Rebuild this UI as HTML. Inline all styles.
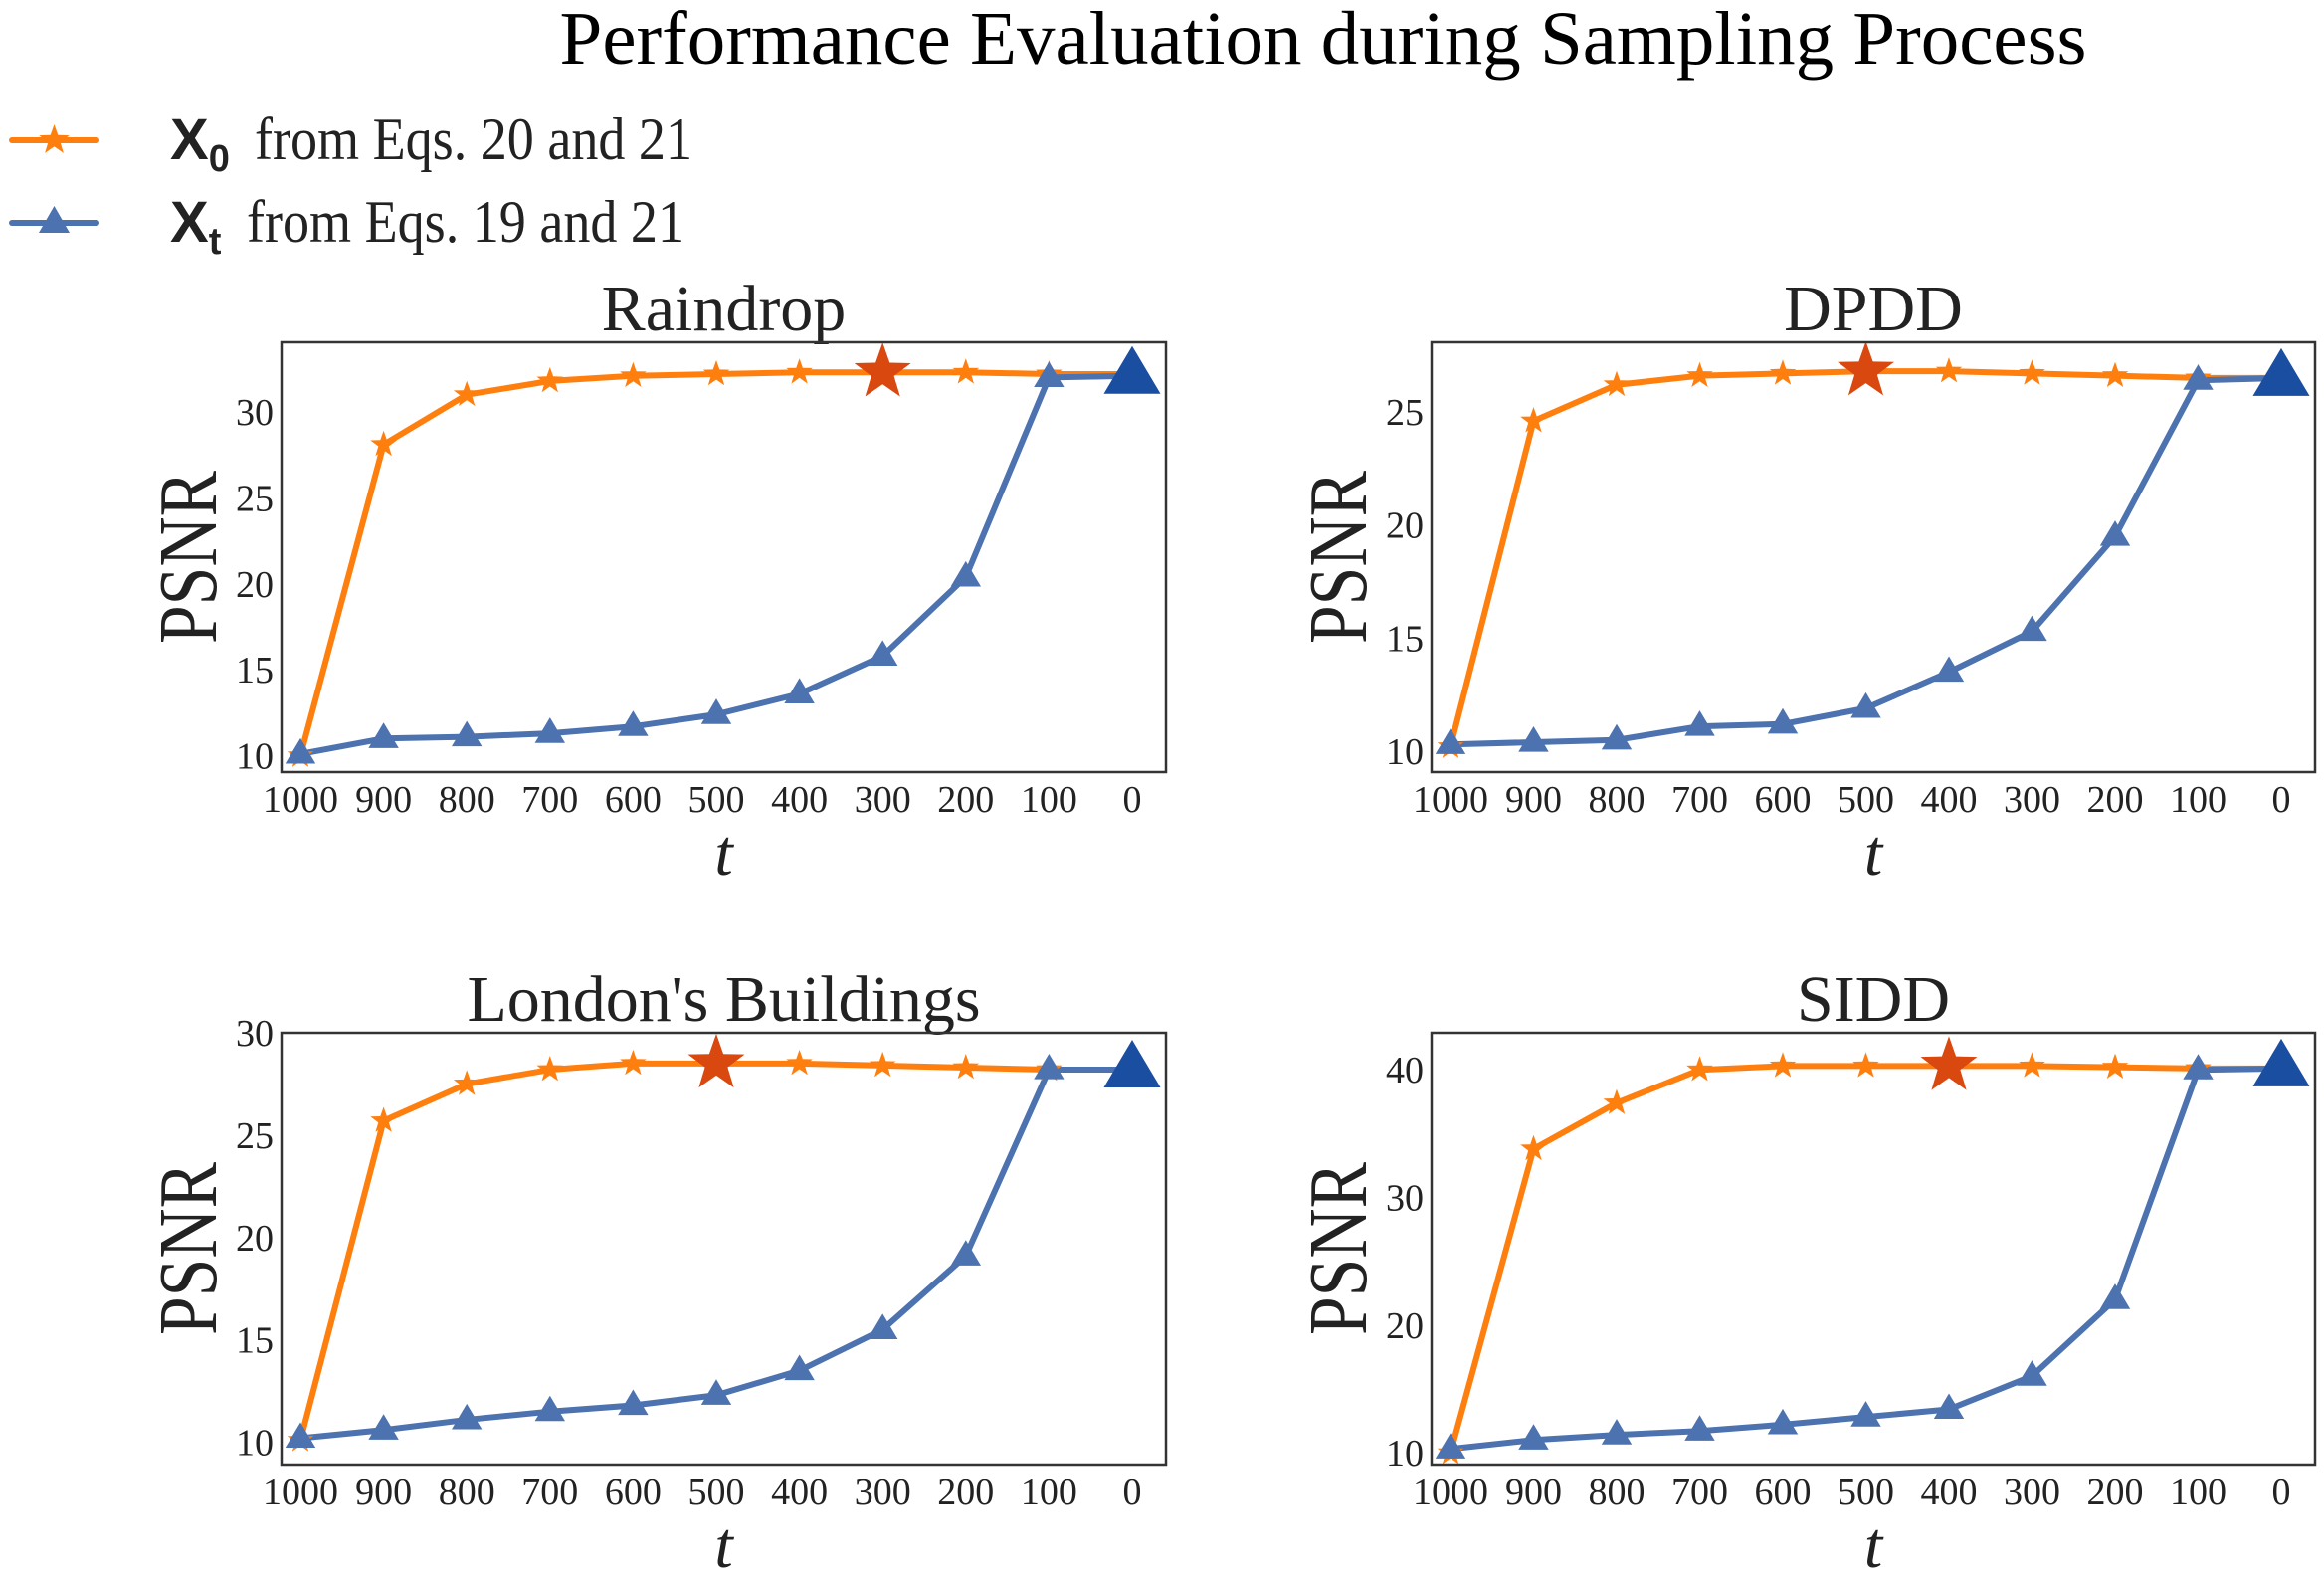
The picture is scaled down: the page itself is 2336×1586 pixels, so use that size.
<!DOCTYPE html>
<html><head><meta charset="utf-8"><style>
html,body{margin:0;padding:0;background:#fff;}
svg{display:block;}
</style></head><body>
<svg id="fig" width="2336" height="1586" viewBox="0 0 2336 1586" xmlns="http://www.w3.org/2000/svg">
<text x="1330" y="64" font-family="Liberation Serif, serif" font-size="76" text-anchor="middle" textLength="1535" lengthAdjust="spacingAndGlyphs" fill="#000">Performance Evaluation during Sampling Process</text>
<g>
 <g>
  <line x1="12" y1="141" x2="97" y2="141" stroke="#ff7f0e" stroke-width="6" stroke-linecap="round"/>
  <polygon points="54.5,125 58.3,135.8 69.7,136.1 60.6,143 63.9,153.9 54.5,147.4 45.1,153.9 48.4,143 39.3,136.1 50.7,135.8" fill="#ff7f0e"/>
  <text x="171" y="160" font-family="Liberation Sans, sans-serif" font-weight="bold" font-size="58" fill="#222">X<tspan font-size="38" dy="12">0</tspan></text>
  <text x="256" y="160" font-family="Liberation Serif, serif" font-size="60" textLength="440" lengthAdjust="spacingAndGlyphs" fill="#222">from Eqs. 20 and 21</text>
 </g>
 <g>
  <line x1="12" y1="224" x2="97" y2="224" stroke="#4c72b0" stroke-width="6" stroke-linecap="round"/>
  <polygon points="54.5,207 39,234 70,234" fill="#4c72b0"/>
  <text x="171" y="243" font-family="Liberation Sans, sans-serif" font-weight="bold" font-size="58" fill="#222">X<tspan font-size="38" dy="12">t</tspan></text>
  <text x="248" y="243" font-family="Liberation Serif, serif" font-size="60" textLength="440" lengthAdjust="spacingAndGlyphs" fill="#222">from Eqs. 19 and 21</text>
 </g>
</g>
<g id="panels"></g>
</svg>
<script>
const steps = [1000, 900, 800, 700, 600, 500, 400, 300, 200, 100, 0];
const xTickLabels = ["1000","900","800","700","600","500","400","300","200","100","0"];

const raindropX0 = [10, 28.1, 31.0, 31.8, 32.1, 32.2, 32.3, 32.3, 32.3, 32.2, 32.2];
const raindropXt = [10.1, 11.0, 11.1, 11.3, 11.7, 12.4, 13.6, 15.8, 20.4, 32.0, 32.1];
const raindropYTicks = [10, 15, 20, 25, 30];

const dpddX0 = [10.2, 24.6, 26.2, 26.6, 26.7, 26.8, 26.8, 26.7, 26.6, 26.5, 26.5];
const dpddXt = [10.3, 10.4, 10.5, 11.1, 11.2, 11.9, 13.5, 15.3, 19.5, 26.4, 26.5];
const dpddYTicks = [10, 15, 20, 25];

const londonX0 = [10.1, 25.7, 27.5, 28.2, 28.5, 28.5, 28.5, 28.4, 28.3, 28.2, 28.2];
const londonXt = [10.2, 10.6, 11.1, 11.5, 11.8, 12.3, 13.5, 15.5, 19.1, 28.2, 28.2];
const londonYTicks = [10, 15, 20, 25, 30];

const siddX0 = [10.0, 33.8, 37.4, 40.0, 40.3, 40.3, 40.3, 40.3, 40.2, 40.1, 40.1];
const siddXt = [10.3, 11.0, 11.4, 11.7, 12.2, 12.8, 13.4, 16.0, 22.0, 40.0, 40.1];
const siddYTicks = [10, 20, 30, 40];

const panels = [
 {name:'raindrop', title:"Raindrop", x0:raindropX0, xt:raindropXt, yt:raindropYTicks, ymin:9.05, ymax:34.05, best:300, L:283, T:344, R:1172, B:776},
 {name:'dpdd', title:"DPDD", x0:dpddX0, xt:dpddXt, yt:dpddYTicks, ymin:9.08, ymax:28.08, best:500, L:1439, T:344, R:2327, B:776},
 {name:'london', title:"London's Buildings", x0:londonX0, xt:londonXt, yt:londonYTicks, ymin:8.91, ymax:30.0, best:500, L:283, T:1038, R:1172, B:1472},
 {name:'sidd', title:"SIDD", x0:siddX0, xt:siddXt, yt:siddYTicks, ymin:9.07, ymax:42.9, best:400, L:1439, T:1038, R:2327, B:1472}
];
const NS = 'http://www.w3.org/2000/svg';
function mk(tag, attrs, parent){const e=document.createElementNS(NS,tag);for(const k in attrs)e.setAttribute(k,attrs[k]);if(parent)parent.appendChild(e);return e;}
function starPts(cx,cy,r){let p=[];for(let i=0;i<10;i++){const rr=i%2?r*0.4:r;const a=-Math.PI/2+i*Math.PI/5;p.push((cx+rr*Math.cos(a)).toFixed(1)+','+(cy+rr*Math.sin(a)).toFixed(1));}return p.join(' ');}
function triPts(cx,cy,r){return [cx+','+(cy-r), (cx-r*0.95)+','+(cy+r*0.6), (cx+r*0.95)+','+(cy+r*0.6)].join(' ');}
const root=document.getElementById('panels');
panels.forEach(p=>{
 const g=mk('g',{},root);
 
 
 const x0px=p.L+19, x1px=p.R-34;
 const xs=v=>x0px+(1000-v)/1000*(x1px-x0px);
 const ys=v=>p.B-(v-p.ymin)/(p.ymax-p.ymin)*(p.B-p.T);
 const cx=(p.L+p.R)/2;
 const t=mk('text',{x:cx,y:p.T-12,'font-family':'Liberation Serif, serif','font-size':66,'text-anchor':'middle',fill:'#222'},g);
 t.textContent=p.title;
 
 
 p.yt.forEach(v=>{
  const tt=mk('text',{x:p.L-8,y:ys(v)+13,'font-family':'Liberation Serif, serif','font-size':38,'text-anchor':'end',fill:'#222'},g);
  tt.textContent=v;
  
  
 });
 steps.forEach((s,i)=>{
  const tt=mk('text',{x:xs(s),y:p.B+40,'font-family':'Liberation Serif, serif','font-size':38,'text-anchor':'middle',fill:'#222'},g);
  tt.textContent=xTickLabels[i];
  
  
 });
 const yl=mk('text',{transform:`translate(${p.L-66},${(p.T+p.B)/2}) rotate(-90)`,'font-family':'Liberation Serif, serif','font-size':84,'text-anchor':'middle',textLength:174,lengthAdjust:'spacingAndGlyphs',fill:'#222'},g);
 yl.textContent='PSNR';
 
 
 const xl=mk('text',{x:cx,y:p.B+103,'font-family':'Liberation Serif, serif','font-size':66,'font-style':'italic','text-anchor':'middle',fill:'#222'},g);
 xl.textContent='t';
 
 
 const lo=mk('polyline',{points:steps.map((s,i)=>xs(s)+','+ys(p.x0[i])).join(' '),fill:'none',stroke:'#ff7f0e','stroke-width':6,'stroke-linejoin':'round'},g);
 
 
 const lb=mk('polyline',{points:steps.map((s,i)=>xs(s)+','+ys(p.xt[i])).join(' '),fill:'none',stroke:'#4c72b0','stroke-width':6,'stroke-linejoin':'round'},g);
 
 
 steps.forEach((s,i)=>{
  const big = s===p.best;
  const m=mk('polygon',{points:starPts(xs(s),ys(p.x0[i]),big?30:14),fill:big?'#d9480f':'#ff7f0e'},g);
  
  
 });
 steps.forEach((s,i)=>{
  const big = s===0;
  const m=mk('polygon',{points:triPts(xs(s),ys(p.xt[i]),big?30:16),fill:big?'#1a4ea0':'#4c72b0'},g);
  
  
 });
 const fr=mk('rect',{x:p.L,y:p.T,width:p.R-p.L,height:p.B-p.T,fill:'none',stroke:'#333','stroke-width':2.5},g);
 
 
});
</script>
</body></html>
